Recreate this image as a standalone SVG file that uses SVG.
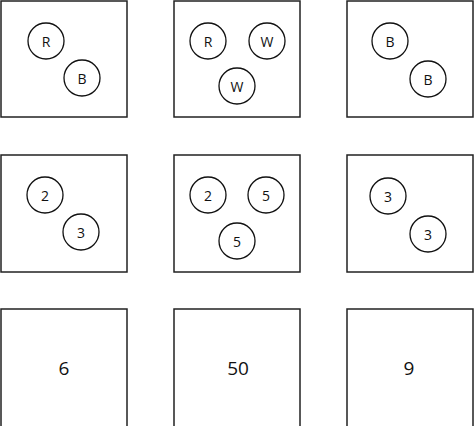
<svg xmlns="http://www.w3.org/2000/svg" width="474" height="426" viewBox="0 0 474 426">
<style>
.box{fill:#fff;stroke:#222;stroke-width:1.5}
.c{fill:#fff;stroke:#111;stroke-width:1.3}
.t{font-family:"Open Sans","DejaVu Sans",sans-serif;font-size:14px;fill:#111;text-anchor:middle;dominant-baseline:central}
.b{font-family:"Open Sans","DejaVu Sans",sans-serif;font-size:19px;fill:#111;text-anchor:middle;dominant-baseline:central}
</style>
<rect width="474" height="426" fill="#fff"/>
<g id="box-r1c1"><rect class="box" x="1" y="1" width="126" height="116"/>
<circle class="c" cx="46" cy="41" r="18"/><text class="t" x="46" y="41">R</text>
<circle class="c" cx="82" cy="78" r="18"/><text class="t" x="82" y="78">B</text></g>
<g id="box-r1c2"><rect class="box" x="174" y="1" width="126" height="116"/>
<circle class="c" cx="208" cy="41" r="18"/><text class="t" x="208" y="41">R</text>
<circle class="c" cx="267" cy="41" r="18"/><text class="t" x="267" y="41">W</text>
<circle class="c" cx="237" cy="86" r="18"/><text class="t" x="237" y="86">W</text></g>
<g id="box-r1c3"><rect class="box" x="347" y="1" width="126" height="116"/>
<circle class="c" cx="390" cy="41" r="18"/><text class="t" x="390" y="41">B</text>
<circle class="c" cx="428" cy="79" r="18"/><text class="t" x="428" y="79">B</text></g>
<g id="box-r2c1"><rect class="box" x="1" y="155" width="126" height="117"/>
<circle class="c" cx="45" cy="195" r="18"/><text class="t" x="45" y="195">2</text>
<circle class="c" cx="81" cy="232" r="18"/><text class="t" x="81" y="232">3</text></g>
<g id="box-r2c2"><rect class="box" x="174" y="155" width="126" height="117"/>
<circle class="c" cx="208" cy="195" r="18"/><text class="t" x="208" y="195">2</text>
<circle class="c" cx="266" cy="195" r="18"/><text class="t" x="266" y="195">5</text>
<circle class="c" cx="237" cy="241" r="18"/><text class="t" x="237" y="241">5</text></g>
<g id="box-r2c3"><rect class="box" x="347" y="155" width="126" height="117"/>
<circle class="c" cx="388" cy="196" r="18"/><text class="t" x="388" y="196">3</text>
<circle class="c" cx="428" cy="234" r="18"/><text class="t" x="428" y="234">3</text></g>
<g id="box-r3c1"><rect class="box" x="1" y="309" width="126" height="130"/><text class="b" x="64" y="368">6</text></g>
<g id="box-r3c2"><rect class="box" x="174" y="309" width="126" height="130"/><text class="b" x="238" y="368">50</text></g>
<g id="box-r3c3"><rect class="box" x="347" y="309" width="126" height="130"/><text class="b" x="409" y="368">9</text></g>
<g id="connectors"/>
</svg>
